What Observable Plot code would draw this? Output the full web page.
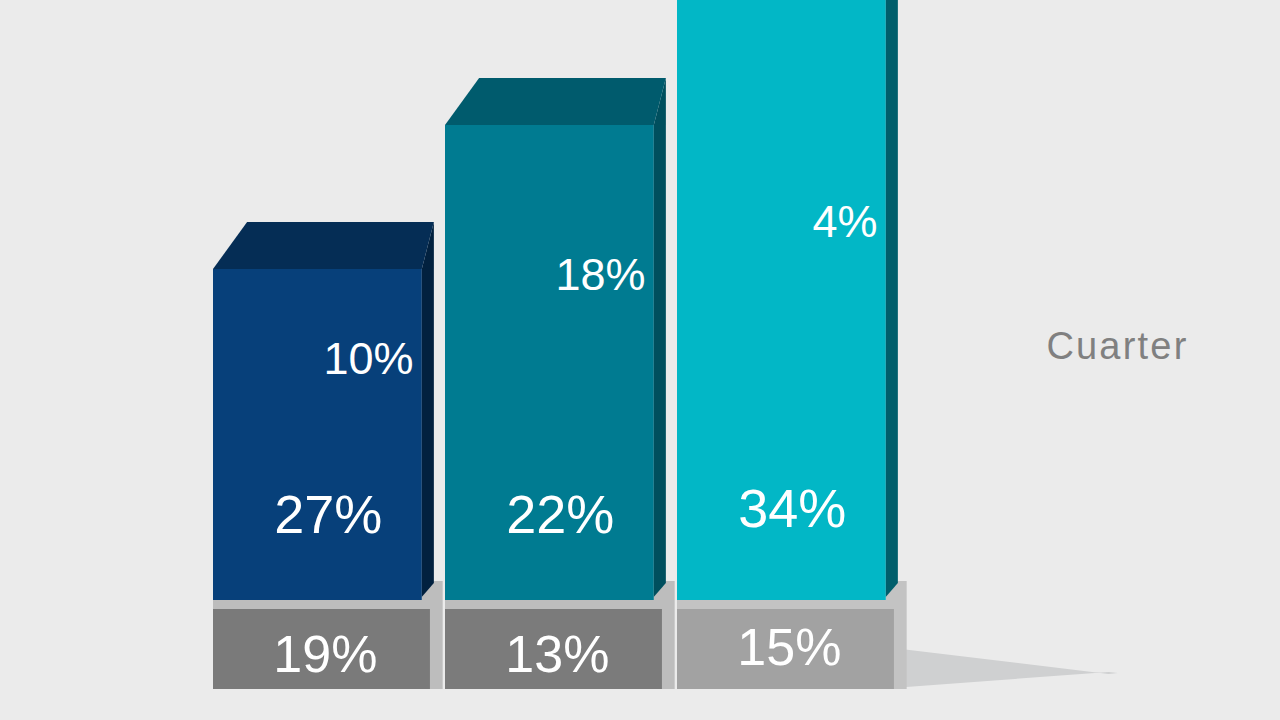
<!DOCTYPE html>
<html>
<head>
<meta charset="utf-8">
<script src="https://cdn.jsdelivr.net/npm/d3@7"></script>
<script src="https://cdn.jsdelivr.net/npm/@observablehq/plot@0.6"></script>
<style>
  html, body { margin: 0; padding: 0; background: #ebebeb; overflow: hidden; }
  #chart svg { display: block; }
</style>
</head>
<body>
<div id="chart"></div>
<script>
// ---- data ----
const categories = ["Bar 1", "Bar 2", "Bar 3"];
const baseShare  = [19, 13, 15];   // grey plinth labels
const lowerShare = [27, 22, 34];   // lower label in coloured bar
const upperShare = [10, 18, 4];    // upper label in coloured bar
const barHeight  = [33.1, 47.5, 66]; // visual height index of coloured bars (bar 3 runs off the top)
const upperLabelAt = [24.1, 32.5, 37.8]; // height of the upper label along each bar
const lowerLabelAt = [8.5, 8.5, 9.1];
const baseLabelAt  = [-5.5, -5.5, -4.8];
const sideLabel = ["Cuarter"];

// ---- styles ----
const frontColor = ["#07407a", "#007b91", "#02b7c6"];
const topColor   = ["#052d55", "#005b6d", "#0196a4"];
const sideColor  = ["#02213f", "#004f5e", "#005e6b"];
const plinthFront = ["#7a7a7a", "#7b7b7b", "#a2a2a2"];
const plinthLight = ["#bdbdbd", "#bdbdbd", "#c3c3c3"];

// ---- 3-D geometry (in scale units) ----
const FRONT = 0.9, BASE_W = 0.935, BASE_END = 0.99;
const DX_L = 0.147, DX_R = 0.052, DY = 4.7;
const PL_BOTTOM = -8.9, PL_TOP = -0.9;

const idx = categories.map((_, i) => i);

const topFace = idx.flatMap(i => {
  const h = barHeight[i];
  return [
    {i, x: i,          y1: h,      y2: h},
    {i, x: i + DX_L,   y1: h,      y2: h + DY},
    {i, x: i + FRONT,  y1: h,      y2: h + DY},
    {i, x: i + FRONT + DX_R, y1: h + DY, y2: h + DY}
  ];
});
const sideFace = idx.flatMap(i => [
  {i, x: i + FRONT,        y1: 0.3, y2: barHeight[i]},
  {i, x: i + FRONT + DX_R, y1: 1.7, y2: barHeight[i] + DY}
]);
const plinthBack = idx.flatMap(i => [
  {i, x: i,                y1: PL_BOTTOM, y2: 0},
  {i, x: i + FRONT,        y1: PL_BOTTOM, y2: 0},
  {i, x: i + FRONT,        y1: PL_BOTTOM, y2: 0.3},
  {i, x: i + FRONT + DX_R, y1: PL_BOTTOM, y2: 1.9},
  {i, x: i + BASE_END,     y1: PL_BOTTOM, y2: 1.9}
]);
const shadow = [
  {x: 2 + BASE_END - 0.06, y1: PL_BOTTOM + 0.1, y2: -4.8},
  {x: 3.86, y1: -7.2, y2: -7.4},
  {x: 3.9,  y1: -7.3, y2: -7.3}
];

const font = "Liberation Sans, Arial, sans-serif";

const chart = Plot.plot({
  width: 1280,
  height: 720,
  margin: 0,
  x: {domain: [-213 / 232, (1280 - 213) / 232], axis: null},
  y: {domain: [-12, 60], axis: null},
  style: {background: "#ebebeb", fontFamily: font},
  marks: [
    Plot.areaY(shadow, {x: "x", y1: "y1", y2: "y2", fill: "#cfd0d1"}),
    Plot.areaY(plinthBack, {x: "x", y1: "y1", y2: "y2", z: "i", fill: d => plinthLight[d.i]}),
    Plot.rect(idx, {x1: i => i, x2: i => i + BASE_W, y1: PL_BOTTOM, y2: PL_TOP, fill: i => plinthFront[i]}),
    Plot.rect(idx, {x1: i => i, x2: i => i + FRONT, y1: 0, y2: i => barHeight[i], fill: i => frontColor[i]}),
    Plot.areaY(sideFace, {x: "x", y1: "y1", y2: "y2", z: "i", fill: d => sideColor[d.i]}),
    Plot.areaY(topFace, {x: "x", y1: "y1", y2: "y2", z: "i", fill: d => topColor[d.i]}),
    Plot.text(idx, {x: i => i + 0.862, y: i => upperLabelAt[i], text: i => upperShare[i] + "%",
      textAnchor: "end", fill: "white", fontSize: 45, fontFamily: font}),
    Plot.text(idx, {x: i => i + 0.495, y: i => lowerLabelAt[i], text: i => lowerShare[i] + "%",
      textAnchor: "middle", fill: "white", fontSize: 54, fontFamily: font}),
    Plot.text(idx, {x: i => i + 0.482, y: i => baseLabelAt[i], text: i => baseShare[i] + "%",
      textAnchor: "middle", fill: "white", fontSize: 52, fontFamily: font}),
    Plot.text(sideLabel, {x: 3.59, y: 25.4, text: d => d, textAnchor: "start",
      fill: "#808080", fontSize: 38, fontFamily: font, className: "side-label"})
  ]
});
document.getElementById("chart").appendChild(chart);
// widen the side label's tracking like the reference
d3.select(chart).selectAll(".side-label text").style("letter-spacing", "2.2px");
</script>
</body>
</html>
